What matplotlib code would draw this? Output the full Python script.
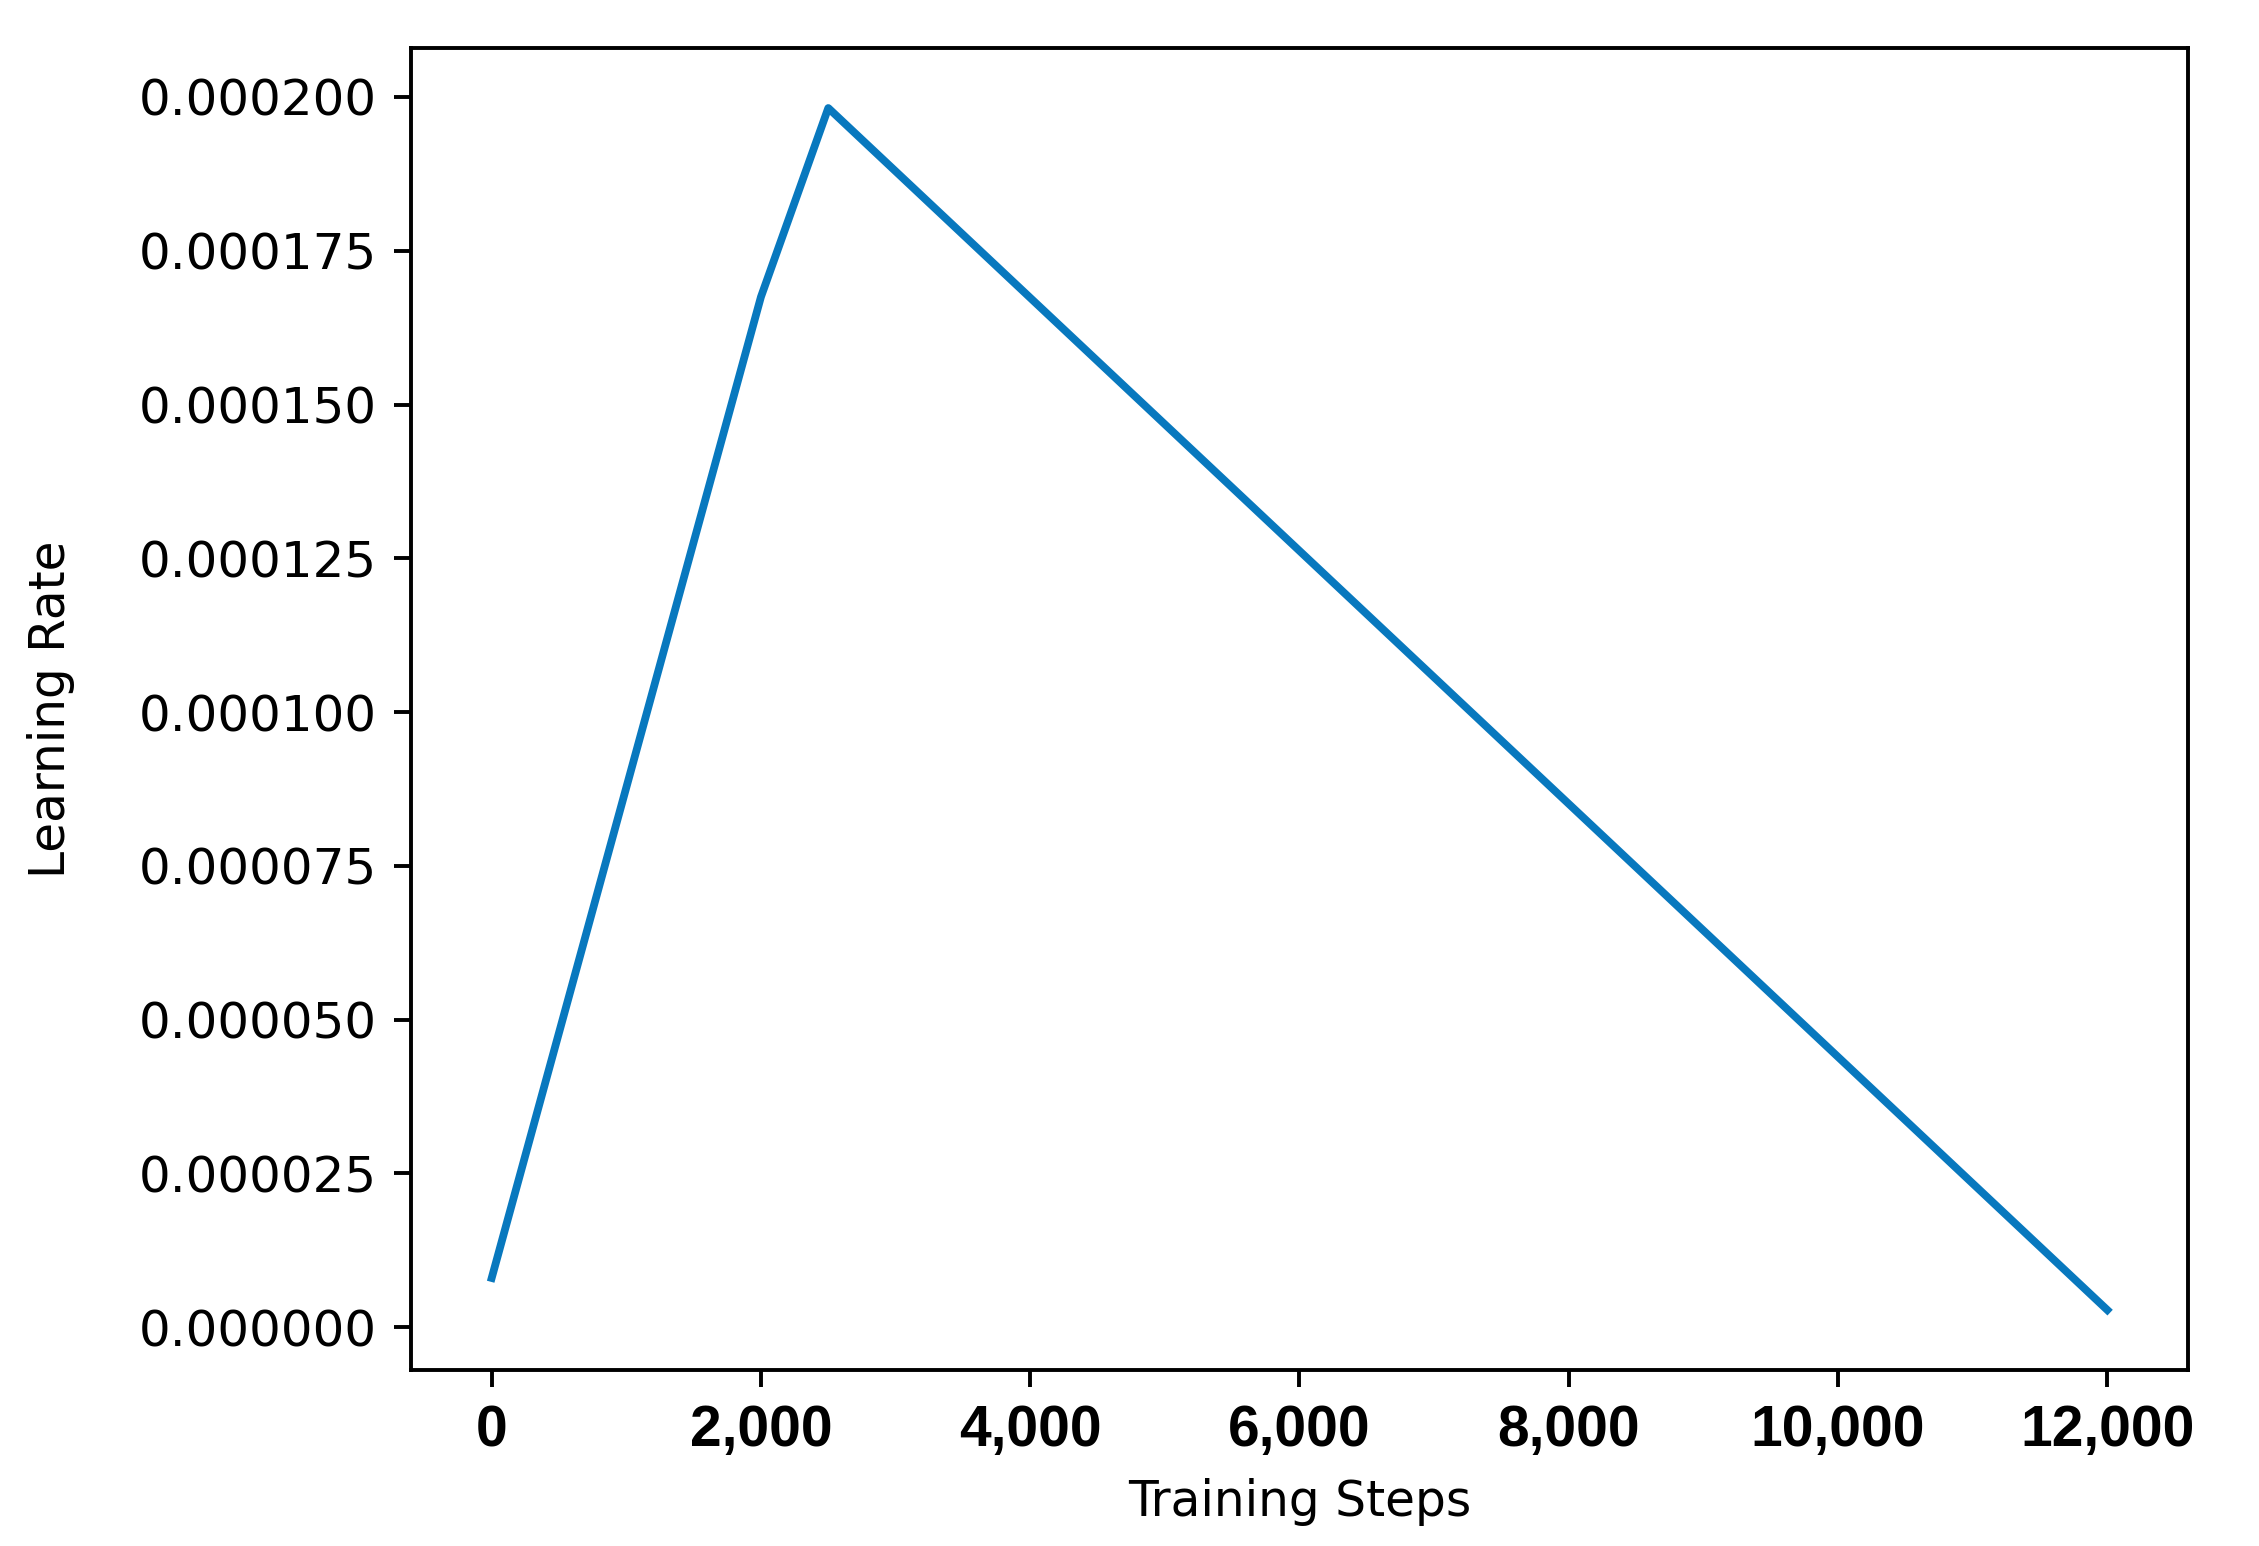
from matplotlib import pyplot as plt
from matplotlib.ticker import FormatStrFormatter, FuncFormatter
import numpy as np

# lernrate pro schritt (warmup, dann linear runter)
steps = [0, 2000, 2500, 12000]
lr = [0.0000080, 0.0001675, 0.0001982, 0.0000028]

fig = plt.figure(figsize=(2259 / 350, 1546 / 350), dpi=350)
ax = fig.add_axes([0.1819, 0.1138, 0.9686 - 0.1819, 0.969 - 0.1138])

ax.plot(steps, lr, color='#0878BE', linewidth=1.6)

ax.set_yticks(np.arange(0, 0.000201, 0.000025))
ax.yaxis.set_major_formatter(FormatStrFormatter('%.6f'))
ax.tick_params(axis='y', labelsize=10.3)
ax.set_xticks([0, 2000, 4000, 6000, 8000, 10000, 12000])
ax.xaxis.set_major_formatter(FuncFormatter(lambda v, p: f'{v:,.0f}'))
for lab in ax.get_xticklabels():
    lab.set_fontfamily('Liberation Sans')
    lab.set_fontweight('bold')
    lab.set_fontsize(11.7)

ax.set_xlabel('Training Steps')
ax.set_ylabel('Learning Rate', labelpad=13)

fig.savefig('out.png', dpi=350)
